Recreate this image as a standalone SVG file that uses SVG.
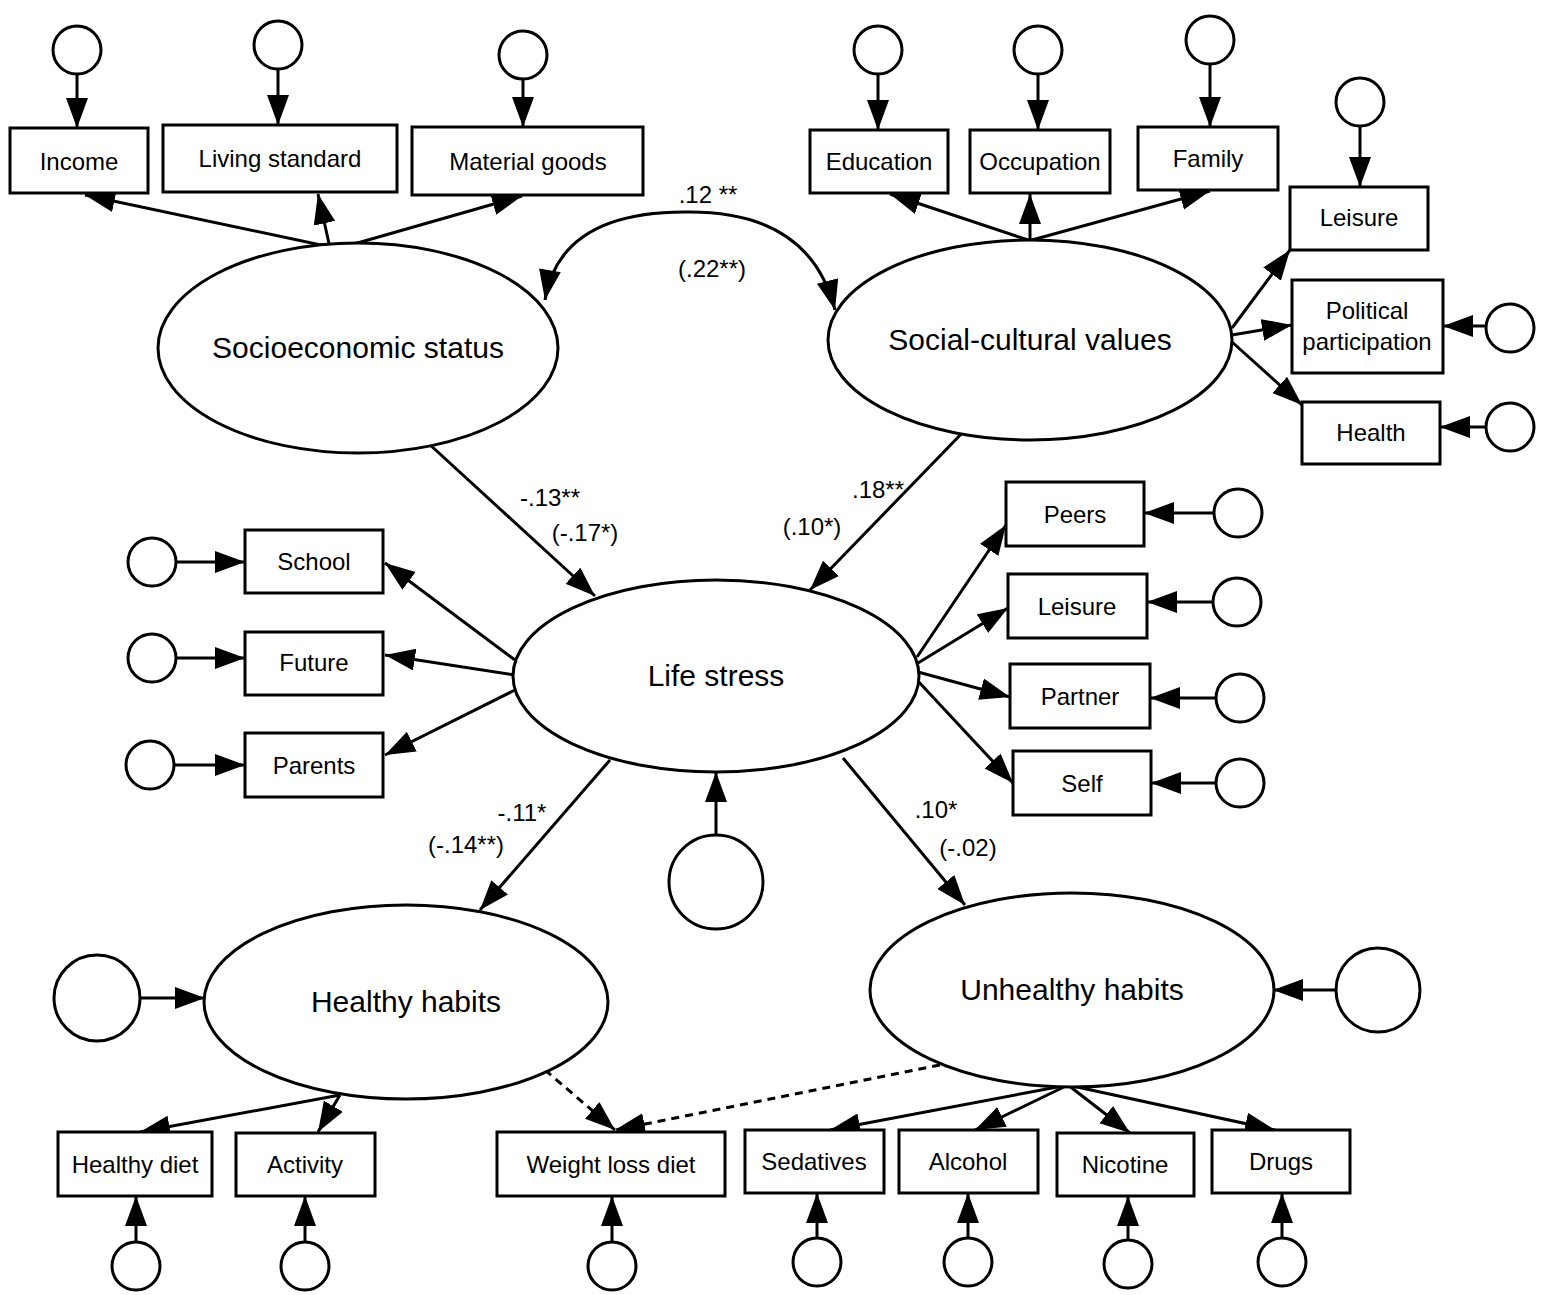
<svg xmlns="http://www.w3.org/2000/svg" width="1545" height="1295" viewBox="0 0 1545 1295">
<style>
rect{fill:#fff;stroke:#000;stroke-width:3}
circle,ellipse{fill:#fff;stroke:#000;stroke-width:3}
.c line,.c path{stroke:#000;stroke-width:3;fill:none;marker-end:url(#a)}
.c .d{stroke-dasharray:8,6}
text{font-family:"Liberation Sans",Arial,sans-serif;font-size:24px;text-anchor:middle;fill:#000}
.e{font-size:30px}
.l{font-size:23px}
</style>
<defs><marker id="a" markerUnits="userSpaceOnUse" markerWidth="32" markerHeight="24" refX="30" refY="11" orient="auto"><path d="M0,0 L30,11 L0,22 z" fill="#000"/></marker>
<marker id="s" markerUnits="userSpaceOnUse" markerWidth="32" markerHeight="24" refX="0" refY="11" orient="auto"><path d="M30,0 L0,11 L30,22 z" fill="#000"/></marker></defs>
<g class="c" id="connectors">
<line x1="77" y1="74" x2="77" y2="128"/><line x1="278" y1="69" x2="278" y2="125"/><line x1="523" y1="79" x2="523" y2="127"/>
<line x1="335" y1="248" x2="85" y2="195"/><line x1="330" y1="248" x2="318" y2="194"/><line x1="340" y1="248" x2="522" y2="196"/>
<line x1="878" y1="74" x2="878" y2="130"/><line x1="1038" y1="74" x2="1038" y2="130"/><line x1="1210" y1="64" x2="1210" y2="127"/><line x1="1360" y1="126" x2="1360" y2="187"/>
<line x1="1028" y1="240" x2="890" y2="194"/><line x1="1030" y1="240" x2="1030" y2="194"/><line x1="1032" y1="240" x2="1210" y2="191"/>
<line x1="1232" y1="328" x2="1290" y2="250"/><line x1="1232" y1="335" x2="1292" y2="325"/><line x1="1232" y1="342" x2="1302" y2="405"/>
<line x1="1486" y1="326" x2="1443" y2="326"/><line x1="1486" y1="427" x2="1440" y2="427"/>
<path d="M545,300 Q560,210 690,212 Q810,212 835,310" style="marker-start:url(#s)"/>
<line x1="428" y1="443" x2="595" y2="596"/><line x1="967" y1="428" x2="810" y2="590"/>
<line x1="515" y1="660" x2="385" y2="563"/><line x1="515" y1="675" x2="385" y2="655"/><line x1="515" y1="690" x2="385" y2="755"/>
<line x1="176" y1="562" x2="245" y2="562"/><line x1="176" y1="658" x2="245" y2="658"/><line x1="174" y1="765" x2="245" y2="765"/>
<line x1="917" y1="657" x2="1006" y2="525"/><line x1="918" y1="663" x2="1008" y2="608"/><line x1="918" y1="672" x2="1010" y2="697"/><line x1="917" y1="680" x2="1013" y2="783"/>
<line x1="1214" y1="513" x2="1144" y2="513"/><line x1="1213" y1="602" x2="1147" y2="602"/><line x1="1216" y1="698" x2="1150" y2="698"/><line x1="1216" y1="783" x2="1151" y2="783"/>
<line x1="716" y1="835" x2="716" y2="772"/>
<line x1="610" y1="760" x2="480" y2="910"/><line x1="843" y1="758" x2="965" y2="905"/>
<line x1="140" y1="998" x2="205" y2="998"/><line x1="1336" y1="990" x2="1273" y2="990"/>
<line x1="340" y1="1095" x2="140" y2="1132"/><line x1="340" y1="1095" x2="318" y2="1132"/>
<line class="d" x1="545" y1="1070" x2="615" y2="1130"/><line class="d" x1="940" y1="1065" x2="615" y2="1130"/>
<line x1="1068" y1="1085" x2="830" y2="1130"/><line x1="1068" y1="1085" x2="975" y2="1130"/><line x1="1068" y1="1085" x2="1130" y2="1133"/><line x1="1068" y1="1085" x2="1275" y2="1130"/>
<line x1="136" y1="1242" x2="136" y2="1196"/><line x1="305" y1="1242" x2="305" y2="1196"/><line x1="612" y1="1242" x2="612" y2="1196"/><line x1="817" y1="1238" x2="817" y2="1193"/><line x1="968" y1="1238" x2="968" y2="1193"/><line x1="1128" y1="1240" x2="1128" y2="1196"/><line x1="1282" y1="1238" x2="1282" y2="1193"/>
</g>
<g id="labels">
<text x="708" y="203">.12 **</text><text x="712" y="277">(.22**)</text>
<text x="550" y="506">-.13**</text><text x="585" y="541">(-.17*)</text>
<text x="878" y="498">.18**</text><text x="812" y="535">(.10*)</text>
<text x="522" y="821">-.11*</text><text x="466" y="853">(-.14**)</text>
<text x="936" y="818">.10*</text><text x="968" y="856">(-.02)</text>
</g>
<g id="errors">
<circle cx="77" cy="50" r="24"/><circle cx="278" cy="45" r="24"/><circle cx="523" cy="55" r="24"/>
<circle cx="878" cy="50" r="24"/><circle cx="1038" cy="50" r="24"/><circle cx="1210" cy="40" r="24"/><circle cx="1360" cy="102" r="24"/>
<circle cx="1510" cy="328" r="24"/><circle cx="1510" cy="427" r="24"/>
<circle cx="152" cy="562" r="24"/><circle cx="152" cy="658" r="24"/><circle cx="150" cy="765" r="24"/>
<circle cx="1238" cy="513" r="24"/><circle cx="1237" cy="602" r="24"/><circle cx="1240" cy="698" r="24"/><circle cx="1240" cy="783" r="24"/>
<circle cx="716" cy="882" r="47"/><circle cx="97" cy="998" r="43"/><circle cx="1378" cy="990" r="42"/>
<circle cx="136" cy="1266" r="24"/><circle cx="305" cy="1266" r="24"/><circle cx="612" cy="1266" r="24"/><circle cx="817" cy="1262" r="24"/><circle cx="968" cy="1262" r="24"/><circle cx="1128" cy="1264" r="24"/><circle cx="1282" cy="1262" r="24"/>
</g>
<g id="ses"><ellipse cx="358" cy="348" rx="200" ry="105"/><text class="e" x="358" y="358">Socioeconomic status</text></g>
<g id="scv"><ellipse cx="1030" cy="340" rx="202" ry="100"/><text class="e" x="1030" y="350">Social-cultural values</text></g>
<g id="ls"><ellipse cx="716" cy="676" rx="203" ry="96"/><text class="e" x="716" y="686">Life stress</text></g>
<g id="hh"><ellipse cx="406" cy="1002" rx="202" ry="97"/><text class="e" x="406" y="1012">Healthy habits</text></g>
<g id="uh"><ellipse cx="1072" cy="990" rx="202" ry="97"/><text class="e" x="1072" y="1000">Unhealthy habits</text></g>
<g id="income"><rect x="10" y="128" width="138" height="65"/><text x="79" y="170">Income</text></g>
<g id="living"><rect x="163" y="125" width="234" height="67"/><text x="280" y="167">Living standard</text></g>
<g id="material"><rect x="412" y="127" width="231" height="68"/><text x="528" y="170">Material goods</text></g>
<g id="education"><rect x="810" y="130" width="138" height="63"/><text x="879" y="170">Education</text></g>
<g id="occupation"><rect x="970" y="130" width="140" height="63"/><text x="1040" y="170">Occupation</text></g>
<g id="family"><rect x="1138" y="127" width="140" height="63"/><text x="1208" y="167">Family</text></g>
<g id="leisure1"><rect x="1290" y="187" width="138" height="63"/><text x="1359" y="226">Leisure</text></g>
<g id="political"><rect x="1292" y="280" width="151" height="93"/><text x="1367" y="319">Political</text><text x="1367" y="350">participation</text></g>
<g id="health"><rect x="1302" y="402" width="138" height="62"/><text x="1371" y="441">Health</text></g>
<g id="school"><rect x="245" y="530" width="138" height="63"/><text x="314" y="570">School</text></g>
<g id="future"><rect x="245" y="632" width="138" height="63"/><text x="314" y="671">Future</text></g>
<g id="parents"><rect x="245" y="733" width="138" height="64"/><text x="314" y="774">Parents</text></g>
<g id="peers"><rect x="1006" y="482" width="138" height="64"/><text x="1075" y="523">Peers</text></g>
<g id="leisure2"><rect x="1008" y="574" width="139" height="64"/><text x="1077" y="615">Leisure</text></g>
<g id="partner"><rect x="1010" y="664" width="140" height="64"/><text x="1080" y="705">Partner</text></g>
<g id="self"><rect x="1013" y="751" width="138" height="64"/><text x="1082" y="792">Self</text></g>
<g id="hdiet"><rect x="58" y="1132" width="154" height="64"/><text x="135" y="1173">Healthy diet</text></g>
<g id="activity"><rect x="236" y="1133" width="139" height="63"/><text x="305" y="1173">Activity</text></g>
<g id="wld"><rect x="497" y="1132" width="228" height="64"/><text x="611" y="1173">Weight loss diet</text></g>
<g id="sedatives"><rect x="745" y="1130" width="139" height="63"/><text x="814" y="1170">Sedatives</text></g>
<g id="alcohol"><rect x="899" y="1130" width="139" height="63"/><text x="968" y="1170">Alcohol</text></g>
<g id="nicotine"><rect x="1057" y="1133" width="137" height="63"/><text x="1125" y="1173">Nicotine</text></g>
<g id="drugs"><rect x="1212" y="1130" width="138" height="63"/><text x="1281" y="1170">Drugs</text></g>
</svg>
